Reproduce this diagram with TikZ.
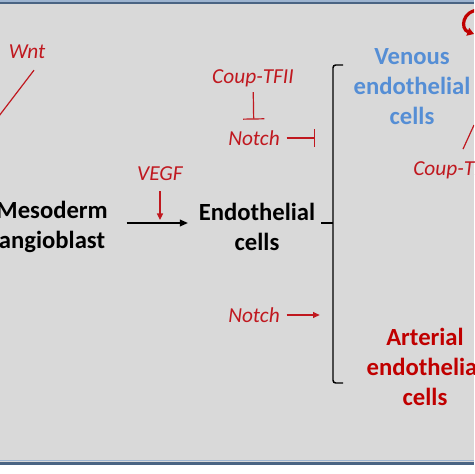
\documentclass[tikz,border=0pt]{standalone}
\usepackage{fontspec}
\setmainfont{Carlito}
\usetikzlibrary{arrows.meta, positioning, calc}

\definecolor{panelgray}{HTML}{D9D9D9}
\definecolor{framedark}{HTML}{4A6483}
\definecolor{framelight}{HTML}{9DB4D0}
\definecolor{sigred}{HTML}{C0181F}
\definecolor{artred}{HTML}{C00000}
\definecolor{venblue}{HTML}{558ED5}

\begin{document}
\begin{tikzpicture}[
    x=0.75pt, y=-0.75pt,
    cell/.style={font=\fontsize{18.5}{22.5}\selectfont\bfseries, align=center, inner sep=0pt},
    factor/.style={font=\fontsize{16}{19}\selectfont\itshape, text=sigred, inner sep=0pt},
    signal/.style={draw=sigred, line width=0.9pt},
    activate/.style={signal, -{Triangle[length=5pt, width=4.5pt]}},
    block/.style={signal, -{Bar[width=13pt, line width=0.9pt]}},
    conv/.style={draw=black, line width=1.1pt, -{Triangle[length=6pt, width=5pt]}},
    ]

    % page and frame
    \useasboundingbox (0,0) rectangle (474,474);
    \clip (0,0) rectangle (474,474);
    \fill[white] (0,0) rectangle (474,474);
    \fill[panelgray] (0,0) rectangle (474,462);
    \fill[framelight] (0,0) rectangle (474,2.5);
    \draw[framedark, line width=1.2pt] (0,3) -- (474,3);
    \draw[framelight, line width=0.8pt] (0,460.8) -- (474,460.8);
    \draw[framedark, line width=2.2pt] (0,463.5) -- (474,463.5);

    % ==========================================
    % Cell populations
    % ==========================================
    \node[cell] (meso) at (52,227) {Mesoderm\\angioblast};
    \node[cell] (endo) at (257,227) {Endothelial\\cells};
    \node[cell, text=venblue] (venous) at (412,87) {Venous\\endothelial\\cells};
    \node[cell, text=artred] (arterial) at (425,367) {Arterial\\endothelial\\cells};

    % ==========================================
    % Signals
    % ==========================================
    \node[factor] (wnt) at (27,52) {Wnt};
    \node[factor] (coup) at (253,78) {Coup-TFII};
    \node[factor] (notchA) at (254,138) {Notch};
    \node[factor] (vegf) at (160,174) {VEGF};
    \node[factor] (notchB) at (254,315) {Notch};
    \node[factor, anchor=west] (coupT) at (413,170) {Coup-TFII};

    % free ends running out of the panel
    \coordinate (wnt-end) at (-1,116);
    \coordinate (coupT-end) at (474,125);

    % bracket splitting the endothelial cells
    \coordinate (brk-top) at (333,65);
    \coordinate (brk-bot) at (333,383);
    \coordinate (brk-mid) at (333,223);
    \draw[black, line width=1.1pt, rounded corners=2pt]
        ($(brk-top)+(10,0)$) -- (brk-top) -- (brk-bot) -- ($(brk-bot)+(10,0)$);
    \draw[black, line width=1.1pt] (brk-mid) -- ++(-12,0);

    % ==========================================
    % Connectors
    % ==========================================
    \draw[conv, shorten <=14pt, shorten >=8pt] ([yshift=3pt]meso.east) -- ([yshift=3pt]endo.west)
        coordinate[pos=0.53] (vegf-hit);
    \draw[activate, shorten <=7.5pt, shorten >=2.2pt] (vegf.south) -- (vegf.south |- vegf-hit);

    \draw[block, -{Bar[width=16pt, line width=0.9pt]}, shorten <=4pt, shorten >=8pt] (coup) -- (notchA);
    \draw[block, shorten <=5pt, shorten >=13.5pt] (notchA.east) -- (notchA.east -| brk-top);
    \draw[activate, shorten <=5pt, shorten >=10pt] (notchB.east) -- (notchB.east -| brk-top);

    \draw[signal] ($(wnt.south)+(7,11)$) -- (wnt-end);
    \draw[signal] ($(coupT.north west)+(50,-12)$) -- (coupT-end);

    % self-renewal loop, cut by the right edge
    \draw[artred, line width=2.4pt, -{Triangle[length=5pt, width=6pt]}]
        (480,10) .. controls (462,10) and (460,29) .. (474,34);

\end{tikzpicture}
\end{document}
